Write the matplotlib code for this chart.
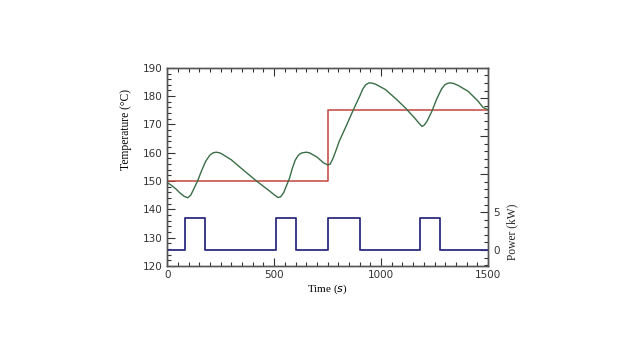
import numpy as np
import matplotlib
matplotlib.use("Agg")
import matplotlib.pyplot as plt
from matplotlib.ticker import MultipleLocator

time_s = [0, 20, 40, 60, 80, 96, 110, 125, 142, 160, 180, 200, 215, 229, 245, 260,
          300, 356, 418, 470, 500, 518, 530, 545, 560, 572, 585, 598, 611, 622, 633,
          650, 665, 700, 730, 750, 762, 775, 790, 804, 840, 874, 900, 915, 928, 943,
          958, 975, 1021, 1070, 1114, 1160, 1180, 1191, 1202, 1215, 1237, 1260, 1283,
          1298, 1310, 1322, 1338, 1360, 1407, 1450, 1477, 1500]
temp_c = [149.5, 148.5, 147.3, 145.8, 144.6, 144.1, 145.0, 147.3, 150.0, 153.5, 157.0,
          159.2, 160.0, 160.2, 160.0, 159.4, 157.5, 153.9, 150.0, 147.0, 145.2, 144.2,
          144.4, 146.0, 148.8, 151.0, 154.5, 157.3, 158.9, 159.7, 160.0, 160.2, 160.0,
          158.5, 156.5, 155.7, 156.0, 158.0, 161.0, 164.0, 170.0, 175.8, 180.0, 182.6,
          184.0, 184.7, 184.6, 184.2, 182.3, 179.0, 175.8, 172.0, 170.2, 169.3, 169.8,
          171.2, 174.6, 179.0, 182.6, 184.0, 184.5, 184.7, 184.5, 183.8, 181.7, 178.5,
          176.0, 175.2]

# ── Setpoint (red) ──────────────────────────────────────────────────────────
sp_time = [0, 750, 750, 1500]
sp_temp = [150, 150, 175, 175]

# ── Heater power pulses (blue): (on, off) times and level ───────────────────
pulse_on = [85, 507, 750, 1180]
pulse_off = [178, 600, 900, 1277]
power_high_kw = 4.2

pw_t, pw_p = [0], [0]
for on, off in zip(pulse_on, pulse_off):
    pw_t += [on, on, off, off]
    pw_p += [0, power_high_kw, power_high_kw, 0]
pw_t.append(1500)
pw_p.append(0)

fig = plt.figure(figsize=(6.38, 3.59), dpi=100)
ax = fig.add_axes([0.262, 0.259, 0.503, 0.552])
ax2 = ax.twinx()

ax.plot(time_s, temp_c, color="#3a6e46", lw=1.0, zorder=3)
ax.plot(sp_time, sp_temp, color="#c4453f", lw=1.1, zorder=2)
ax2.plot(pw_t, pw_p, color="#2c2c80", lw=1.3)

ax.set_xlim(0, 1500)
ax.set_ylim(120, 190)
ax2.set_ylim(-2.1, 24.0)

ax.xaxis.set_major_locator(MultipleLocator(500))
ax.xaxis.set_minor_locator(MultipleLocator(50))
ax.yaxis.set_major_locator(MultipleLocator(10))
ax.yaxis.set_minor_locator(MultipleLocator(2))
ax2.yaxis.set_minor_locator(MultipleLocator(1))
ax2.set_yticks([0, 5, 10, 15, 20])
ax2.set_yticklabels(["0", "5", "", "", ""])

ax.tick_params(which="both", direction="in", top=True, right=False, colors="#333333",
               labelsize=7.5, pad=3)
ax.tick_params(which="major", length=6, width=0.8)
ax.tick_params(which="minor", length=3, width=0.8)
ax2.tick_params(which="both", direction="in", colors="#333333", labelsize=7.5, pad=4)
ax2.tick_params(which="major", length=6, width=0.8)
ax2.tick_params(which="minor", length=3, width=0.8)
for a in (ax, ax2):
    for s in a.spines.values():
        s.set_color("#555555")
        s.set_linewidth(1.0)

ax.set_xlabel("Time ($\\mathit{s}$)", family="Liberation Serif", fontsize=8, labelpad=2)
ax.set_ylabel("Temperature (°C)", family="Liberation Serif", fontsize=8.3)
ax.yaxis.set_label_coords(-0.108, 0.69)
fig.text(0.803, 0.355, "Power (kW)", rotation=90, family="Liberation Serif",
         fontsize=8.3, ha="center", va="center", color="#222222")

fig.savefig("out.png", dpi=100, facecolor="white")
